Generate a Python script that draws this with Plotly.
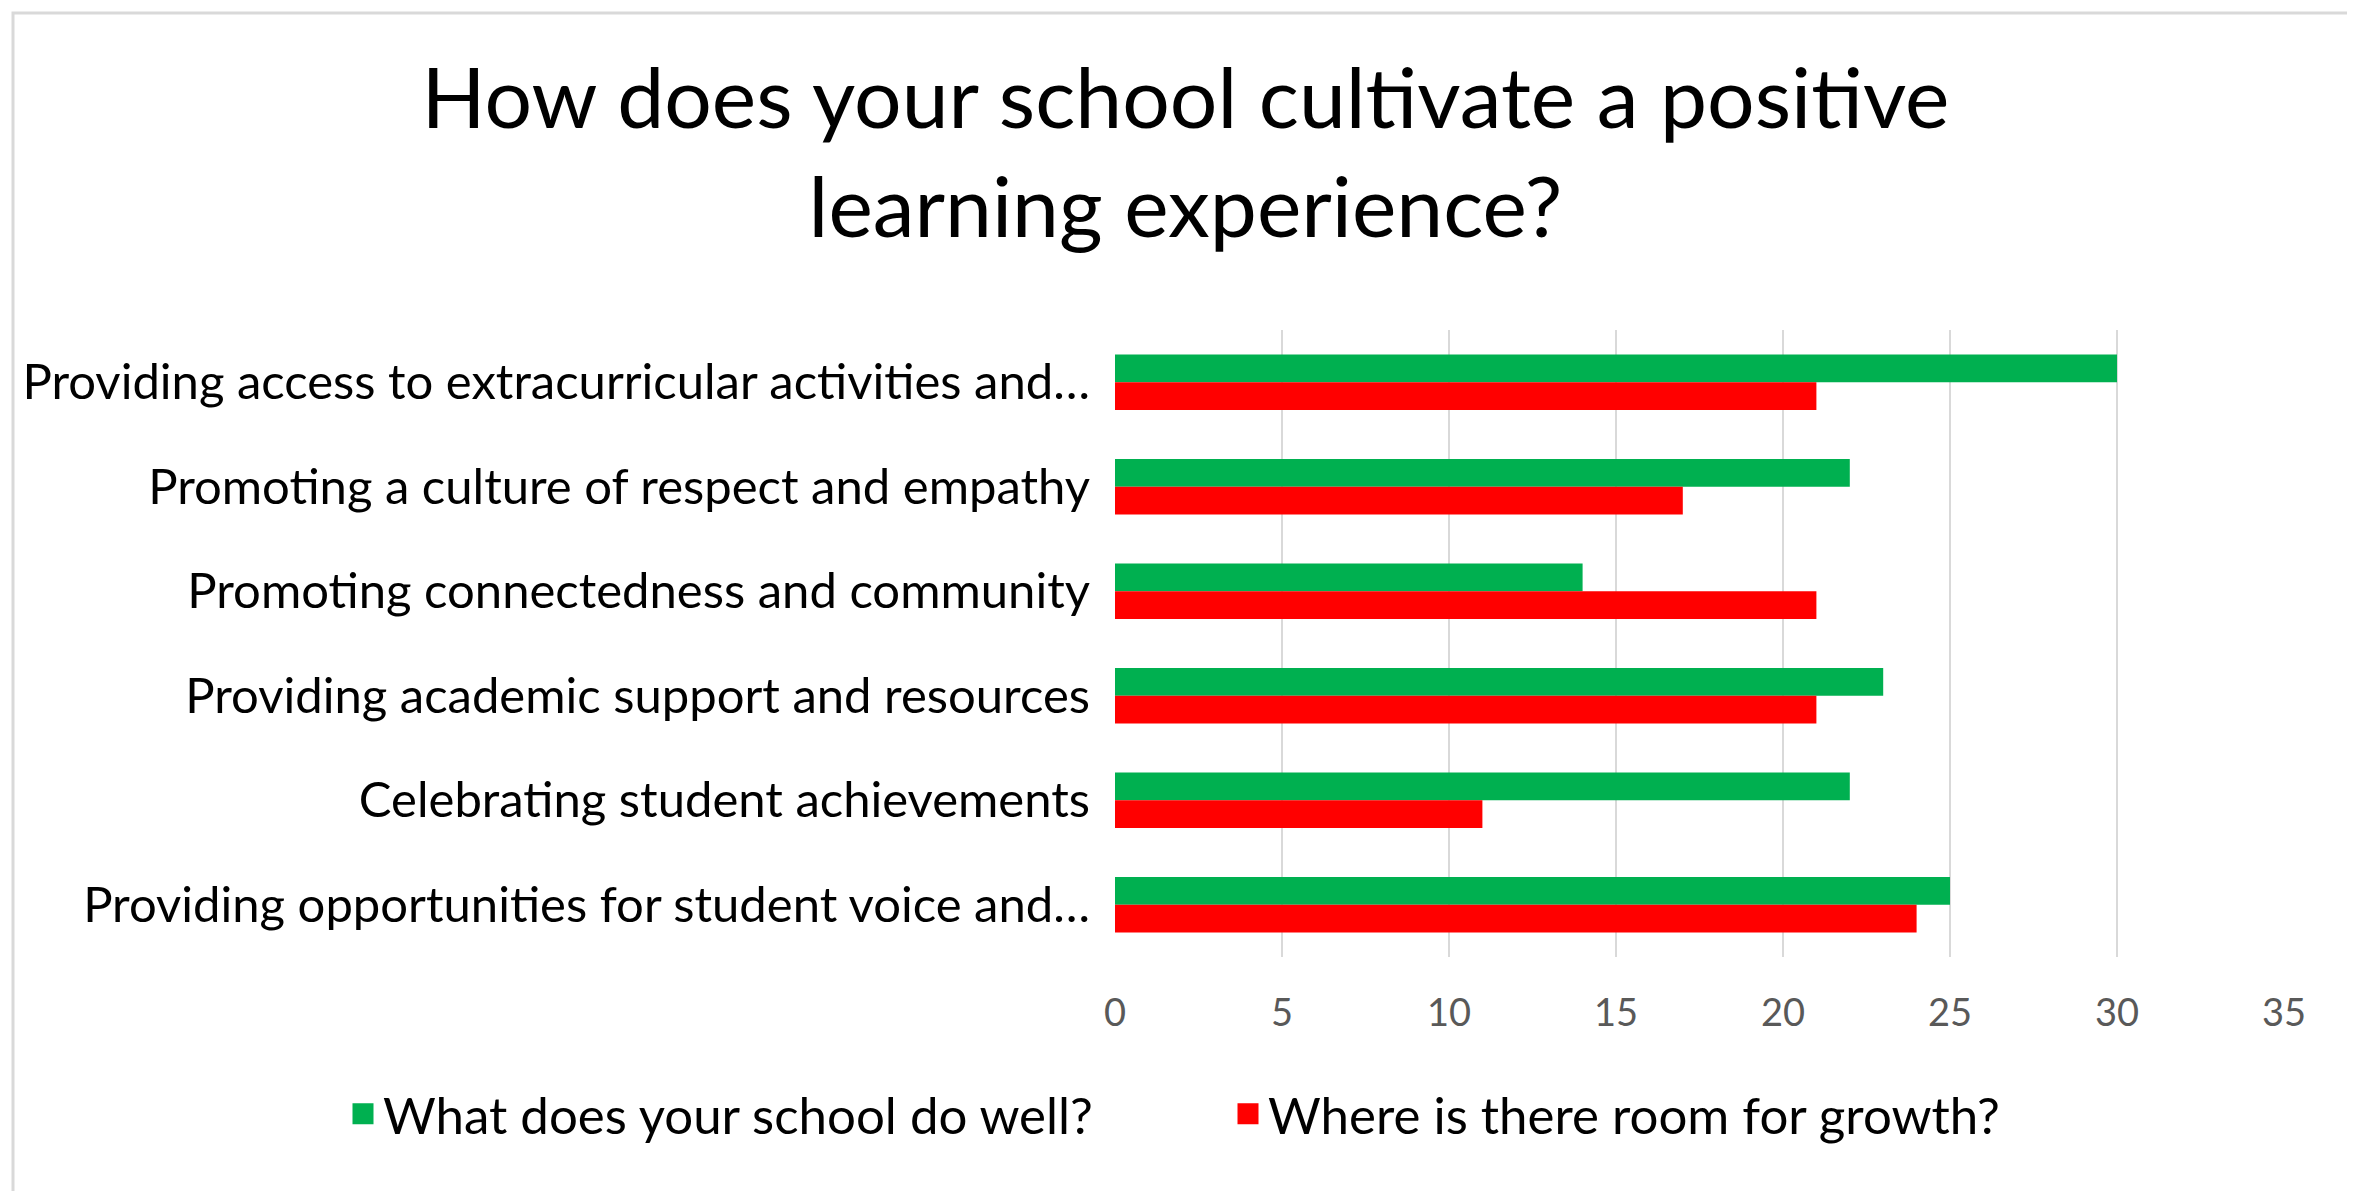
import plotly.graph_objects as go

categories = [
    "Providing access to extracurricular activities and…",
    "Promoting a culture of respect and empathy",
    "Promoting connectedness and community",
    "Providing academic support and resources",
    "Celebrating student achievements",
    "Providing opportunities for student voice and…",
]
do_well = [30, 22, 14, 23, 22, 25]
room_for_growth = [21, 17, 21, 21, 11, 24]
series_names = ["What does your school do well?", "Where is there room for growth?"]
x_ticks = [0, 5, 10, 15, 20, 25, 30, 35]

GREEN = "#00B050"
RED = "#FF0000"
FONT = "Lato"

W, H = 2355, 1191
ml, mr, mt, mb = 1107, 79, 322, 242
pw = W - ml - mr
ph = H - mt - mb

fig = go.Figure()
fig.add_trace(go.Bar(y=categories, x=do_well, orientation="h", marker=dict(color=GREEN, line_width=0),
                     name=series_names[0], showlegend=False))
fig.add_trace(go.Bar(y=categories, x=room_for_growth, orientation="h", marker=dict(color=RED, line_width=0),
                     name=series_names[1], showlegend=False))
# legend proxies so the swatches can be bigger than plotly's fixed bar swatch
for nm, col in zip(series_names, [GREEN, RED]):
    fig.add_trace(go.Scatter(x=[None], y=[None], mode="markers", name=nm,
                             marker=dict(symbol="square", size=16, color=col, line=dict(color=col, width=5))))

fig.update_xaxes(range=[0, 35], tickvals=x_ticks, showgrid=True, gridcolor="#D9D9D9", gridwidth=2,
                 zeroline=False, showline=False, ticks="", ticklabelstandoff=30,
                 tickfont=dict(family=FONT, size=38, color="#595959"))
fig.update_yaxes(autorange="reversed", showgrid=False, showline=False, ticks="", ticklabelstandoff=24,
                 tickfont=dict(family=FONT, size=49, color="#000000"))

# thin grey frame round the whole chart
fig.add_shape(type="rect", xref="paper", yref="paper",
              x0=(5 - ml) / pw, x1=(W - 5 - ml) / pw,
              y0=-(H - 5 - mt - ph) / ph, y1=1 + (mt - 5) / ph,
              line=dict(color="#D9D9D9", width=3), fillcolor="rgba(0,0,0,0)", layer="below")

fig.update_layout(
    width=W, height=H,
    margin=dict(l=ml, r=mr, t=mt, b=mb),
    barmode="group", bargap=0.47, bargroupgap=0,
    plot_bgcolor="white", paper_bgcolor="white",
    title=dict(text="How does your school cultivate a positive<br>learning experience?",
               x=0.5, xref="container", xanchor="center",
               y=1 - 120 / H, yref="container", yanchor="top",
               font=dict(family=FONT, size=84, color="#000000")),
    legend=dict(orientation="h", xref="paper", x=(335 - ml) / pw, xanchor="left",
                yref="paper", y=-(1106 - mt - ph) / ph, yanchor="middle",
                font=dict(family=FONT, size=51, color="#000000"),
                entrywidth=840, itemwidth=30),
    font=dict(family=FONT),
)

fig.write_html("out.html")
